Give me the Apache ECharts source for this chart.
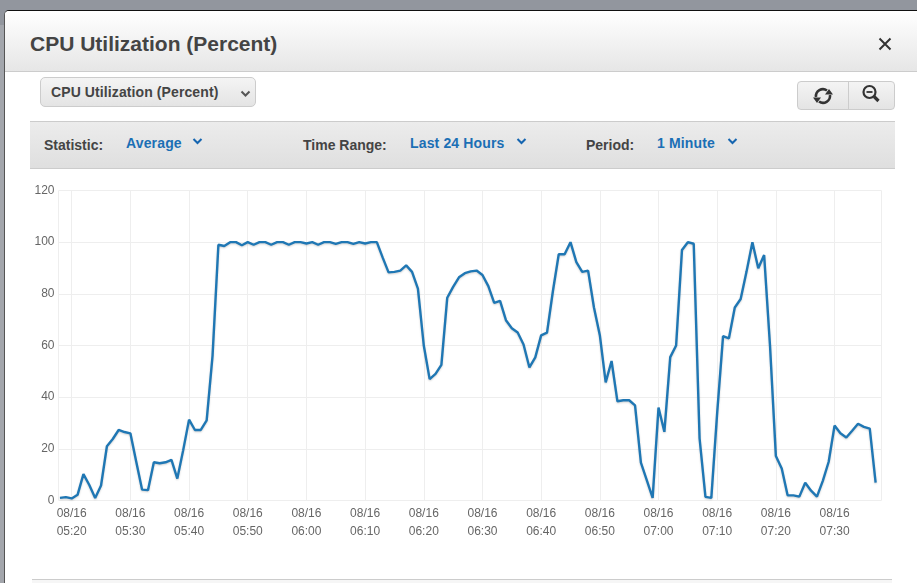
<!DOCTYPE html>
<html><head><meta charset="utf-8">
<style>
html,body{margin:0;padding:0;width:917px;height:583px;overflow:hidden;background:#92969e;font-family:"Liberation Sans",Arial,sans-serif}
#strip{position:absolute;left:0;top:25px;width:5px;height:558px;background:#a3a6ac}
#modal{position:absolute;left:4px;top:10px;width:913px;height:573px;background:#fff;border-top:1px solid #111;border-left:1px solid #555;border-top-left-radius:5px;box-sizing:border-box}
#head{position:absolute;left:5px;top:11px;width:912px;height:60px;background:linear-gradient(#fff,#e6e6e6);border-bottom:1px solid #ccc;border-top-left-radius:4px}
.abs{position:absolute;white-space:nowrap}
#title{left:30px;top:32px;font-size:21px;font-weight:bold;color:#444;line-height:24px}
#close{left:877px;top:36px}
#select{left:40px;top:77px;width:216px;height:30px;box-sizing:border-box;border:1px solid #ccc;border-radius:5px;background:linear-gradient(#f4f4f4,#e4e4e4)}
#selecttext{left:51px;top:85px;font-size:14px;font-weight:bold;color:#444;line-height:15px;letter-spacing:.1px}
#bar{left:30px;top:121px;width:865px;height:48px;box-sizing:border-box;border-top:1px solid #ccc;border-bottom:1px solid #ccc;background:linear-gradient(#ececec,#dfdfdf)}
.lab{font-size:14px;font-weight:bold;color:#444;line-height:15px;top:138px}
.val{font-size:14px;font-weight:bold;color:#1b6fb5;line-height:15px;top:136px;letter-spacing:.15px}
#btns{left:797px;top:81px;width:98px;height:29px;box-sizing:border-box;border:1px solid #ccc;border-radius:4px;background:linear-gradient(#f4f4f4,#e4e4e4)}
#btnsep{left:848px;top:81px;width:1px;height:29px;background:#ccc}
#foot{left:32px;top:579px;width:860px;height:4px;border-top:1px solid #ccc;background:#f6f6f6;box-sizing:border-box}
#chart{position:absolute;left:0;top:0;width:917px;height:583px}
</style></head><body>
<div id="strip"></div><div id="modal"></div><div id="head"></div>
<div class="abs" id="title">CPU Utilization (Percent)</div>
<svg class="abs" id="close" width="16" height="16" viewBox="0 0 16 16"><path d="M2.5 2.5L13.5 13.5M13.5 2.5L2.5 13.5" stroke="#333" stroke-width="2" fill="none"/></svg>
<div class="abs" id="select"></div>
<div class="abs" id="selecttext">CPU Utilization (Percent)</div>
<svg class="abs" style="left:240px;top:90px" width="11" height="8" viewBox="0 0 11 8"><path d="M1.5 1.5L5.5 5.5L9.5 1.5" stroke="#555" stroke-width="2" fill="none"/></svg>
<div class="abs" id="btns"></div><div class="abs" id="btnsep"></div>
<svg class="abs" style="left:812px;top:85px" width="22" height="22" viewBox="0 0 22 22"><path d="M4 12a7 7 0 0 1 11-6.5M18 10a7 7 0 0 1-11 6.5" stroke="#333" stroke-width="2.6" fill="none"/><path d="M13 9.5h8l-4-5.5zM9 12.500H1l4 5.5z" fill="#333"/></svg>
<svg class="abs" style="left:861px;top:84px" width="20" height="20" viewBox="0 0 20 20"><circle cx="8.500" cy="8" r="6" stroke="#333" stroke-width="2.200" fill="none"/><path d="M5.500 8h6" stroke="#333" stroke-width="1.800"/><path d="M13 12.500L17.500 17" stroke="#333" stroke-width="3.200"/></svg>
<div class="abs" id="bar"></div>
<div class="abs lab" style="left:44px">Statistic:</div>
<div class="abs val" style="left:126px">Average</div>
<div class="abs lab" style="left:303px">Time Range:</div>
<div class="abs val" style="left:410px">Last 24 Hours</div>
<div class="abs lab" style="left:586px">Period:</div>
<div class="abs val" style="left:657px">1 Minute</div>
<svg class="abs" style="left:192px;top:138px" width="11" height="7" viewBox="0 0 11 7"><path d="M1.5 1L5.5 5L9.5 1" stroke="#1565b0" stroke-width="2" fill="none"/></svg>
<svg class="abs" style="left:516px;top:138px" width="11" height="7" viewBox="0 0 11 7"><path d="M1.5 1L5.5 5L9.5 1" stroke="#1565b0" stroke-width="2" fill="none"/></svg>
<svg class="abs" style="left:727px;top:138px" width="11" height="7" viewBox="0 0 11 7"><path d="M1.5 1L5.5 5L9.5 1" stroke="#1565b0" stroke-width="2" fill="none"/></svg>
<div class="abs" id="foot"></div>
<div id="chart"></div>
<script src="https://cdn.jsdelivr.net/npm/echarts@6/dist/echarts.min.js"></script>
<script>
const dateLabel = '08/16';
const startTime = '05:18';
const axisMinTime = '05:17:45';
const axisMaxTime = '07:38:00';
const tickLabels = ['05:20','05:30','05:40','05:50','06:00','06:10','06:20','06:30','06:40','06:50','07:00','07:10','07:20','07:30'];
const cpuValues = [
 1,1.3,0.8,2.2,10.2,6,1,5.8,21,23.8,27.3,26.5,26,15,4.2,4,14.8,14.4,14.8,15.7,
 8.5,19.5,31.3,27.3,27.3,31,56,99,98.5,100,100,98.8,100,99,100,100,99,100,100,99,
 100,100,99.5,100,99,100,100,99.3,100,100,99.3,100,99.5,100,100,94,88.3,88.5,89,91,
 88.5,82,60,47,49,52.5,78.5,82.7,86.4,88,88.7,89,87.3,83,76.5,77.3,69.8,66.7,65,60.4,
 51.5,55.4,63.9,65,81,95.3,95.3,100,92.3,88.5,89,74.7,64,45.7,54,38.4,38.8,38.8,36.8,14.7,
 7.9,1,36,26.6,55.5,60,97,100,99.4,24,1.4,1,34,63.6,62.8,74.7,78,88.6,100,89.9,
 95,60,17.2,12.4,2,2,1.5,6.9,3.8,1.5,7.6,15,29,26,24.4,27,29.7,28.5,27.8,6.9
];
// x positions are minutes since midnight
const toMin = s => { const p = s.split(':').map(Number); return p[0]*60+p[1]+(p[2]||0)/60; };
const t0 = toMin(startTime), xMin = toMin(axisMinTime), xMax = toMin(axisMaxTime);
const seriesData = cpuValues.map((v,i)=>[t0+i,v]);
const labelVals = tickLabels.map(toMin);
const pad = n => String(n).padStart(2,'0');
const chart = echarts.init(document.getElementById('chart'),null,{renderer:'canvas'});
const gridColor = '#eeeeee';
chart.setOption({
 animation:false,
 backgroundColor:'transparent',
 textStyle:{fontFamily:'"Liberation Sans",Arial,sans-serif'},
 grid:{left:58.5,right:35.5,top:190.5,bottom:82.5,containLabel:false,show:false},
 tooltip:{show:false},
 xAxis:{type:'value',min:xMin,max:xMax,scale:true,
  axisLine:{show:false},
  axisTick:{show:false,customValues:[xMin].concat(labelVals,[xMax])},
  splitLine:{show:true,showMinLine:true,showMaxLine:true,lineStyle:{color:gridColor,width:1}},
  axisLabel:{show:true,customValues:labelVals,color:'#666',fontSize:12,lineHeight:18,margin:4,hideOverlap:false,
    formatter:v=>dateLabel+'\n'+pad(Math.floor(v/60))+':'+pad(Math.round(v%60))}
 },
 yAxis:{type:'value',min:0,max:120,interval:20,
  axisLine:{show:false},axisTick:{show:false},
  splitLine:{show:true,lineStyle:{color:gridColor,width:1}},
  axisLabel:{color:'#666',fontSize:12,margin:4}
 },
 series:[{type:'line',data:seriesData,showSymbol:false,smooth:false,
  lineStyle:{color:'#1f77b4',width:2.4,shadowColor:'rgba(0,0,0,0.18)',shadowBlur:2,shadowOffsetY:1}}]
});
</script>
</body></html>
